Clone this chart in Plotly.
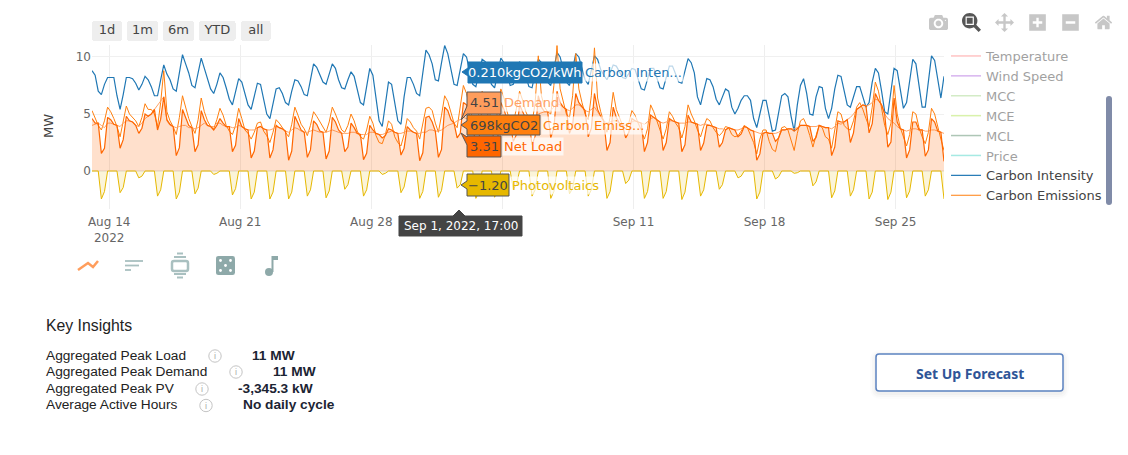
"""
Load overview chart with hover labels, legend and insight panel below it
Values read off the screenshot, one row per day, 4 hours apart
"""

import pandas as pd
import plotly.graph_objects as go

W, H = 1128, 455

CARBON_INTENSITY = [
    8.8, 8.4, 7.0, 6.7, 7.6, 8.2,
    8.2, 8.2, 6.6, 5.4, 6.7, 8.2,
    8.2, 8.1, 7.7, 7.1, 7.6, 8.3,
    8.0, 7.4, 6.6, 6.6, 8.0, 9.3,
    8.5, 8.0, 7.2, 7.0, 8.6, 10.2,
    9.4, 8.6, 7.5, 7.3, 8.6, 9.9,
    9.0, 8.2, 7.2, 6.8, 7.6, 8.6,
    8.2, 7.3, 6.3, 5.8, 7.0, 8.1,
    7.8, 6.9, 5.8, 5.4, 6.6, 7.7,
    7.6, 6.2, 5.0, 4.6, 6.0, 7.2,
    7.3, 6.8, 6.0, 5.8, 7.0, 8.0,
    7.9, 7.4, 6.7, 6.6, 8.0, 9.4,
    9.1, 8.5, 7.8, 7.6, 8.4, 9.4,
    9.0, 8.0, 7.3, 7.2, 8.0, 8.7,
    8.3, 7.0, 6.0, 5.8, 7.5, 9.0,
    8.4, 6.5, 4.4, 3.9, 6.0, 7.8,
    7.6, 6.0, 4.4, 4.1, 6.5, 8.2,
    8.2, 7.6, 6.8, 6.6, 8.6, 10.6,
    10.2, 9.4, 8.0, 7.9, 9.5, 11.0,
    10.3, 9.0, 7.6, 7.5, 8.8, 10.3,
    10.0, 8.8, 7.6, 7.4, 8.6, 9.8,
    9.6, 8.6, 7.6, 7.3, 8.6, 9.9,
    9.5, 8.5, 7.5, 7.6, 8.5, 9.6,
    9.2, 8.3, 7.4, 7.3, 8.6, 9.8,
    9.5, 8.7, 7.8, 7.5, 8.9, 10.4,
    10.0, 9.0, 7.8, 7.5, 9.0, 10.3,
    10.0, 9.0, 8.0, 7.6, 8.8, 10.1,
    9.8, 8.9, 8.4, 8.0, 8.6, 9.3,
    9.2, 8.7, 8.2, 8.1, 8.6, 9.0,
    8.9, 8.0, 7.2, 7.1, 8.0, 9.0,
    9.0, 8.2, 7.3, 7.2, 8.2, 9.2,
    9.2, 8.4, 7.8, 7.7, 8.8, 9.85,
    9.5, 8.6, 6.5, 5.8, 7.0, 8.1,
    8.0, 7.4, 6.3, 5.8, 6.5, 7.2,
    7.0, 5.6, 5.0, 5.5, 6.2, 6.6,
    6.6, 6.2, 4.6, 3.8, 5.0, 6.2,
    6.2, 4.8, 3.5, 3.6, 5.3, 6.6,
    6.8, 6.5, 4.8, 3.5, 5.8, 7.5,
    8.1, 6.8, 5.0, 4.9, 6.5, 7.4,
    7.3, 5.5, 4.6, 5.5, 7.2, 8.4,
    8.3, 7.0, 5.8, 5.6, 6.5, 7.4,
    7.4, 6.5, 5.6, 6.0, 7.8, 9.0,
    8.6, 7.0, 5.2, 5.0, 7.0, 9.0,
    8.8, 7.0, 5.5, 6.0, 8.0, 9.8,
    9.4, 7.5, 5.6, 5.6, 8.0, 10.1,
    9.7, 8.0, 6.4, 8.3,
]

CARBON_EMISSIONS = [
    5.3, 4.6, 4.0, 3.6, 4.4, 5.6,
    5.2, 4.6, 3.9, 3.0, 4.3, 5.7,
    5.0, 4.7, 4.4, 3.9, 4.7, 5.9,
    5.4, 5.4, 5.0, 3.9, 6.0, 8.8,
    5.2, 4.4, 3.9, 3.2, 4.7, 6.6,
    5.6, 4.6, 3.9, 3.3, 4.5, 6.4,
    5.2, 4.4, 3.9, 3.7, 4.5, 5.5,
    4.9, 4.0, 3.5, 3.2, 4.0, 5.5,
    4.6, 3.6, 3.3, 2.8, 3.4, 4.2,
    4.3, 3.5, 3.1, 2.5, 3.4, 4.5,
    4.2, 3.8, 3.5, 3.0, 4.1, 5.6,
    4.9, 4.1, 3.7, 3.1, 4.0, 5.2,
    4.8, 4.3, 3.8, 3.4, 4.3, 5.6,
    5.0, 4.2, 3.6, 3.4, 4.0, 5.0,
    4.4, 3.5, 3.0, 2.8, 3.6, 4.8,
    4.2, 3.1, 2.5, 2.4, 3.2, 4.4,
    4.1, 3.0, 2.5, 2.2, 3.2, 4.6,
    4.3, 3.8, 3.5, 2.8, 4.1, 5.5,
    5.6, 5.3, 4.2, 3.4, 4.9, 6.6,
    6.1, 5.2, 4.2, 3.8, 5.5, 7.5,
    6.8, 5.5, 4.5, 4.0, 5.1, 7.0,
    6.6, 5.4, 4.5, 3.8, 5.3, 7.2,
    6.4, 5.2, 4.3, 4.2, 5.5, 7.0,
    6.2, 5.2, 4.6, 4.2, 6.0, 10.1,
    6.6, 5.6, 5.2, 5.0, 7.5, 11.0,
    7.2, 6.0, 5.0, 4.7, 6.6, 10.3,
    7.2, 6.0, 5.0, 4.5, 6.6, 10.8,
    6.4, 5.2, 4.3, 3.4, 4.7, 6.9,
    5.4, 4.6, 4.0, 3.7, 4.2, 5.3,
    4.9, 4.2, 3.6, 2.8, 3.7, 5.8,
    5.2, 4.4, 3.6, 2.8, 3.7, 5.2,
    4.8, 4.2, 3.8, 2.9, 3.9, 5.8,
    5.0, 4.4, 3.6, 3.0, 3.9, 4.6,
    4.4, 3.8, 3.4, 3.1, 3.4, 3.9,
    3.8, 3.2, 3.0, 3.1, 3.5, 4.0,
    3.8, 3.2, 2.5, 1.5, 2.8, 3.6,
    3.6, 2.6, 1.9, 1.7, 2.9, 3.8,
    3.9, 3.6, 2.8, 1.8, 3.3, 4.4,
    4.6, 4.0, 3.1, 2.1, 3.1, 4.0,
    3.8, 3.0, 2.8, 2.0, 3.6, 5.2,
    5.0, 4.0, 3.7, 3.6, 4.4, 5.6,
    6.0, 5.4, 4.6, 3.9, 5.6, 7.8,
    7.0, 5.4, 4.0, 3.2, 4.2, 7.5,
    5.0, 3.8, 3.0, 2.2, 3.2, 5.2,
    5.0, 3.8, 3.0, 2.4, 3.4, 5.5,
    5.0, 3.8, 2.8, 1.8,
]

DEMAND = [
    4.0, 4.1, 4.2, 4.0, 3.8, 4.2,
    4.2, 4.1, 4.0, 3.9, 4.2, 4.4,
    4.4, 4.3, 4.0, 3.9, 4.2, 4.6,
    4.8, 5.0, 5.4, 5.8, 6.2, 6.5,
    4.4, 4.0, 3.9, 3.8, 3.9, 4.0,
    4.0, 3.8, 3.8, 3.7, 3.8, 4.0,
    4.2, 4.0, 3.9, 3.9, 4.2, 4.2,
    4.0, 3.9, 3.9, 3.8, 3.8, 4.0,
    3.9, 3.7, 3.6, 3.6, 3.6, 3.8,
    3.9, 3.7, 3.6, 3.6, 3.7, 3.9,
    3.8, 3.7, 3.5, 3.4, 3.6, 3.8,
    3.7, 3.5, 3.4, 3.4, 3.5, 3.6,
    3.5, 3.4, 3.4, 3.4, 3.5, 3.6,
    3.5, 3.4, 3.3, 3.3, 3.3, 3.4,
    3.4, 3.3, 3.2, 3.2, 3.2, 3.4,
    3.4, 3.3, 3.2, 3.2, 3.3, 3.4,
    3.5, 3.4, 3.3, 3.3, 3.4, 3.5,
    3.5, 3.4, 3.3, 3.3, 3.4, 3.4,
    3.6, 3.6, 3.5, 3.5, 3.6, 3.8,
    4.0, 4.1, 4.2, 4.4, 4.51, 4.7,
    4.6, 4.5, 4.4, 4.3, 4.5, 4.6,
    4.5, 4.4, 4.4, 4.4, 4.6, 4.7,
    4.5, 4.3, 4.2, 4.2, 4.4, 4.6,
    4.6, 4.5, 4.4, 4.5, 4.7, 5.0,
    5.1, 5.2, 5.2, 5.3, 5.6, 5.9,
    5.8, 5.6, 5.4, 5.3, 5.5, 5.8,
    5.8, 5.6, 5.3, 5.2, 5.4, 5.6,
    5.2, 4.8, 4.4, 4.2, 4.3, 4.4,
    4.4, 4.2, 4.0, 4.0, 4.2, 4.3,
    4.4, 4.3, 4.2, 4.1, 4.3, 4.6,
    4.7, 4.5, 4.3, 4.2, 4.3, 4.4,
    4.4, 4.3, 4.2, 4.2, 4.2, 4.3,
    4.3, 4.2, 4.1, 4.0, 4.1, 4.1,
    4.0, 3.9, 3.8, 3.7, 3.7, 3.6,
    3.8, 3.7, 3.6, 3.6, 3.7, 3.9,
    3.8, 3.6, 3.5, 3.4, 3.3, 3.3,
    3.4, 3.3, 3.3, 3.3, 3.4, 3.6,
    3.6, 3.7, 3.7, 3.7, 3.8, 4.0,
    4.0, 4.0, 3.9, 3.9, 3.9, 4.0,
    3.9, 3.8, 3.8, 3.7, 3.9, 4.2,
    4.1, 4.3, 4.5, 4.7, 5.0, 5.4,
    5.6, 5.8, 5.7, 5.8, 6.0, 6.3,
    6.2, 5.8, 5.0, 4.6, 4.4, 4.2,
    3.9, 3.7, 3.6, 3.5, 3.6, 3.7,
    3.7, 3.6, 3.6, 3.5, 3.5, 3.6,
    3.6, 3.5, 3.4, 3.3,
]

NET_LOAD = [
    4.6, 4.2, 4.2, 1.55, 2.0, 4.7,
    4.5, 4.1, 4.0, 2.0, 2.75, 4.8,
    4.4, 4.3, 4.0, 3.3, 3.75, 5.0,
    4.8, 5.0, 5.4, 3.6, 4.55, 6.5,
    4.5, 4.1, 3.9, 1.35, 2.05, 5.4,
    4.7, 4.0, 3.8, 1.7, 2.3, 5.3,
    4.5, 4.0, 3.9, 3.6, 4.0, 4.6,
    4.2, 3.9, 3.9, 1.7, 2.25, 4.6,
    3.9, 3.7, 3.6, 1.15, 1.75, 3.8,
    3.9, 3.7, 3.6, 1.15, 1.85, 4.0,
    3.8, 3.7, 3.5, 0.95, 1.75, 4.8,
    4.2, 3.6, 3.4, 1.2, 1.85, 4.4,
    4.1, 3.5, 3.4, 1.05, 1.75, 4.7,
    4.3, 3.6, 3.3, 1.7, 2.1, 4.2,
    3.8, 3.3, 3.2, 1.0, 1.55, 4.0,
    3.6, 3.3, 3.2, 2.9, 3.1, 3.7,
    3.6, 3.4, 3.3, 1.4, 2.0, 3.9,
    3.6, 3.4, 3.3, 0.9, 1.6, 4.7,
    4.8, 4.3, 3.5, 1.2, 1.9, 5.6,
    5.3, 4.5, 4.2, 2.9, 3.31, 6.0,
    5.8, 4.8, 4.4, 1.9, 2.7, 5.8,
    5.6, 4.8, 4.4, 2.1, 2.9, 6.0,
    5.4, 4.5, 4.2, 2.6, 3.2, 5.8,
    5.2, 4.6, 4.4, 2.3, 3.05, 6.6,
    5.6, 5.2, 5.2, 2.9, 3.8, 7.0,
    6.0, 5.6, 5.4, 3.3, 4.0, 6.8,
    6.0, 5.6, 5.3, 3.0, 3.75, 6.8,
    5.4, 4.8, 4.4, 1.8, 2.5, 5.6,
    4.7, 4.2, 4.0, 2.9, 3.4, 4.6,
    4.4, 4.3, 4.2, 1.7, 2.5, 4.9,
    4.7, 4.5, 4.3, 1.8, 2.5, 4.6,
    4.4, 4.3, 4.2, 1.7, 2.3, 4.9,
    4.3, 4.2, 4.1, 1.8, 2.45, 4.0,
    4.0, 3.9, 3.8, 2.1, 2.5, 3.6,
    3.8, 3.7, 3.6, 3.0, 3.25, 3.9,
    3.8, 3.6, 3.5, 0.95, 1.5, 3.3,
    3.4, 3.3, 3.3, 2.6, 2.9, 3.6,
    3.6, 3.7, 3.7, 3.5, 3.7, 4.0,
    4.0, 4.0, 3.9, 2.6, 2.95, 4.0,
    3.9, 3.8, 3.8, 1.35, 2.1, 4.4,
    4.3, 4.3, 4.5, 2.5, 3.35, 5.4,
    5.6, 5.8, 5.7, 3.35, 4.15, 6.8,
    6.2, 5.8, 5.0, 2.1, 2.55, 6.4,
    4.3, 3.7, 3.6, 1.15, 1.85, 4.3,
    4.3, 3.6, 3.6, 1.3, 1.85, 4.6,
    4.3, 3.5, 3.4, 0.85,
]

PHOTOVOLTAICS = [
    0, 0, 0, -2.45, -1.8, 0,
    0, 0, 0, -1.9, -1.45, 0,
    0, 0, 0, -0.6, -0.45, 0,
    0, 0, 0, -2.2, -1.65, 0,
    0, 0, 0, -2.45, -1.85, 0,
    0, 0, 0, -2.0, -1.5, 0,
    0, 0, 0, -0.3, -0.2, 0,
    0, 0, 0, -2.1, -1.55, 0,
    0, 0, 0, -2.45, -1.85, 0,
    0, 0, 0, -2.45, -1.85, 0,
    0, 0, 0, -2.45, -1.85, 0,
    0, 0, 0, -2.2, -1.65, 0,
    0, 0, 0, -2.35, -1.75, 0,
    0, 0, 0, -1.6, -1.2, 0,
    0, 0, 0, -2.2, -1.65, 0,
    0, 0, 0, -0.3, -0.2, 0,
    0, 0, 0, -1.9, -1.4, 0,
    0, 0, 0, -2.4, -1.8, 0,
    0, 0, 0, -2.3, -1.7, 0,
    0, 0, 0, -1.5, -1.2, 0,
    0, 0, 0, -2.4, -1.8, 0,
    0, 0, 0, -2.3, -1.7, 0,
    0, 0, 0, -1.6, -1.2, 0,
    0, 0, 0, -2.2, -1.65, 0,
    0, 0, 0, -2.4, -1.8, 0,
    0, 0, 0, -2.0, -1.5, 0,
    0, 0, 0, -2.2, -1.65, 0,
    0, 0, 0, -2.4, -1.8, 0,
    0, 0, 0, -1.1, -0.8, 0,
    0, 0, 0, -2.4, -1.8, 0,
    0, 0, 0, -2.4, -1.8, 0,
    0, 0, 0, -2.5, -1.85, 0,
    0, 0, 0, -2.2, -1.65, 0,
    0, 0, 0, -1.6, -1.2, 0,
    0, 0, 0, -0.6, -0.45, 0,
    0, 0, 0, -2.45, -1.85, 0,
    0, 0, 0, -0.7, -0.5, 0,
    0, 0, 0, -0.2, -0.15, 0,
    0, 0, 0, -1.3, -0.95, 0,
    0, 0, 0, -2.35, -1.75, 0,
    0, 0, 0, -2.2, -1.65, 0,
    0, 0, 0, -2.45, -1.85, 0,
    0, 0, 0, -2.5, -1.85, 0,
    0, 0, 0, -2.35, -1.75, 0,
    0, 0, 0, -2.2, -1.65, 0,
    0, 0, 0, -2.45,
]

# traces that are switched off in the legend, nothing drawn for them
HIDDEN_NAMES = ["Temperature", "Wind Speed", "MCC", "MCE", "MCL", "Price"]
HIDDEN_COLORS = ["#ff8a8a", "#b06be0", "#a9d98e", "#b5e65a", "#5f8f6f", "#4fd6c8"]

INSIGHT_ROWS = ["Aggregated Peak Load", "Aggregated Peak Demand", "Aggregated Peak PV", "Average Active Hours"]
INSIGHT_VALUES = ["11 MW", "11 MW", "-3,345.3 kW", "No daily cycle"]

times = pd.date_range("2022-08-13 02:00", periods=len(NET_LOAD), freq="4h")


# pixel position in the page to paper coordinates
def px(x):
    return x / W


def py(y):
    return 1 - y / H


def path_of(points):
    return "M " + " L ".join(f"{px(x):.5f},{py(y):.5f}" for x, y in points) + " Z"


def round_rect(x0, y0, x1, y1, r):
    return (
        f"M {px(x0 + r):.5f},{py(y0):.5f} L {px(x1 - r):.5f},{py(y0):.5f} "
        f"Q {px(x1):.5f},{py(y0):.5f} {px(x1):.5f},{py(y0 + r):.5f} "
        f"L {px(x1):.5f},{py(y1 - r):.5f} "
        f"Q {px(x1):.5f},{py(y1):.5f} {px(x1 - r):.5f},{py(y1):.5f} "
        f"L {px(x0 + r):.5f},{py(y1):.5f} "
        f"Q {px(x0):.5f},{py(y1):.5f} {px(x0):.5f},{py(y1 - r):.5f} "
        f"L {px(x0):.5f},{py(y0 + r):.5f} "
        f"Q {px(x0):.5f},{py(y0):.5f} {px(x0 + r):.5f},{py(y0):.5f} Z"
    )


fig = go.Figure()

for name, color in zip(HIDDEN_NAMES, HIDDEN_COLORS):
    fig.add_trace(go.Scatter(
        x=[times[0]], y=[None], mode="lines", name=name,
        line=dict(color=color, width=1.5), visible="legendonly",
    ))

fig.add_trace(go.Scatter(
    x=times, y=CARBON_INTENSITY, mode="lines", name="Carbon Intensity",
    line=dict(color="#1f77b4", width=1.2),
))
fig.add_trace(go.Scatter(
    x=times, y=CARBON_EMISSIONS, mode="lines", name="Carbon Emissions",
    line=dict(color="#ff7f0e", width=1),
))
fig.add_trace(go.Scatter(
    x=times, y=DEMAND, mode="lines", name="Demand", showlegend=False,
    line=dict(color="#ffa366", width=1),
))
fig.add_trace(go.Scatter(
    x=times, y=NET_LOAD, mode="lines", name="Net Load", showlegend=False,
    line=dict(color="#ff6600", width=1.2),
    fill="tozeroy", fillcolor="rgba(255,102,0,0.2)",
))
fig.add_trace(go.Scatter(
    x=times, y=PHOTOVOLTAICS, mode="lines", name="Photovoltaics", showlegend=False,
    line=dict(color="#e6b800", width=1),
    fill="tozeroy", fillcolor="rgba(230,184,0,0.15)",
))

shapes = []
notes = []


def text(x, y, s, size=12, color="#444", family="DejaVu Sans", anchor="left", bg=None):
    # left anchored annotations sit about 2px right of the given position
    if anchor == "left":
        x = x - 2
    notes.append(dict(
        x=px(x), y=py(y), xref="paper", yref="paper", text=s, showarrow=False,
        xanchor=anchor, yanchor="middle", align=anchor,
        font=dict(size=size, color=color, family=family),
        bgcolor=bg, borderpad=1,
    ))


# hover label: box with a pointer towards the hovered point
def hover_label(x0, x1, y0, y1, base_y, tip_x, tip_y, fill, value, value_color, name=None, name_color=None):
    border = "#555" if value_color != "white" else fill
    shapes.append(dict(
        type="path", xref="paper", yref="paper", layer="above",
        path=path_of([(tip_x, tip_y), (x0, base_y - 4), (x0, y0), (x1, y0), (x1, y1), (x0, y1), (x0, base_y + 4)]),
        fillcolor=fill, line=dict(color=border, width=1),
    ))
    text((x0 + x1) / 2, (y0 + y1) / 2, value, size=13, color=value_color, anchor="center")
    if name:
        text(x1 + 3, (y0 + y1) / 2, name, size=13, color=name_color, bg="rgba(255,255,255,0.7)")


hover_label(468, 582, 62, 83, 72, 462, 72, "#1f77b4", "0.210kgCO2/kWh", "white", "Carbon Inten...", "#1f77b4")
hover_label(467, 501, 92, 114, 110, 461, 120, "#ff9d5c", "4.51", "#444", "Demand", "#ffa366")
hover_label(467, 540, 115, 135, 125, 461, 125, "#ff7f0e", "698kgCO2", "#444", "Carbon Emiss...", "#ff7f0e")
hover_label(467, 501, 136, 157, 141, 461, 133, "#ff6600", "3.31", "#444", "Net Load", "#ff6600")
hover_label(467, 509, 174, 196, 185, 461, 185, "#e6b800", "\u22121.20", "#444", "Photovoltaics", "#e6b800")

# time label under the axis
shapes.append(dict(
    type="path", xref="paper", yref="paper", layer="above",
    path=path_of([(459, 210), (465, 216), (522, 216), (522, 236), (399, 236), (399, 216), (453, 216)]),
    fillcolor="#444", line=dict(color="#444", width=1),
))
text(460.5, 226, "Sep 1, 2022, 17:00", size=12, color="white", anchor="center")

text(48, 126, "MW", size=13, color="#444", anchor="center")
notes[-1]["textangle"] = -90

# legend scrollbar
shapes.append(dict(
    type="path", xref="paper", yref="paper", layer="above",
    path=round_rect(1106, 96, 1112, 205, 3), fillcolor="#808ba8", line=dict(width=0),
))

# tab icons
ICON_ORANGE = "#ff9d5c"
ICON_GREY = "#a9c0c0"
ICON_DARK = "#8ea9a9"
shapes.append(dict(
    type="path", xref="paper", yref="paper",
    path=f"M {px(78):.5f},{py(270):.5f} L {px(88):.5f},{py(263):.5f} L {px(93):.5f},{py(267):.5f} L {px(98):.5f},{py(261):.5f}",
    line=dict(color=ICON_ORANGE, width=2.5),
))
for x0, y0, x1 in [(125, 261, 143), (125, 265.5, 139), (125, 270, 131)]:
    shapes.append(dict(type="line", xref="paper", yref="paper", x0=px(x0), x1=px(x1), y0=py(y0), y1=py(y0),
                       line=dict(color=ICON_GREY, width=1.8)))
shapes.append(dict(type="path", xref="paper", yref="paper", path=round_rect(172, 261, 188, 271, 2),
                   line=dict(color=ICON_GREY, width=2.5)))
for x0, y0, x1 in [(177, 253.5, 183), (174, 257, 186), (174, 274, 186), (177, 277.5, 183)]:
    shapes.append(dict(type="line", xref="paper", yref="paper", x0=px(x0), x1=px(x1), y0=py(y0), y1=py(y0),
                       line=dict(color=ICON_GREY, width=2)))
shapes.append(dict(type="path", xref="paper", yref="paper", path=round_rect(216, 256, 235, 275, 2.5),
                   fillcolor=ICON_DARK, line=dict(width=0)))
for cx, cy in [(220.5, 260.5), (230.5, 260.5), (225.5, 265.5), (220.5, 270.5), (230.5, 270.5)]:
    shapes.append(dict(type="circle", xref="paper", yref="paper", x0=px(cx - 1.4), x1=px(cx + 1.4),
                       y0=py(cy - 1.4), y1=py(cy + 1.4), fillcolor="white", line=dict(width=0)))
shapes.append(dict(type="circle", xref="paper", yref="paper", x0=px(265), x1=px(273), y0=py(268), y1=py(276),
                   fillcolor=ICON_DARK, line=dict(width=0)))
shapes.append(dict(type="path", xref="paper", yref="paper",
                   path=path_of([(271.5, 256), (278, 256), (278, 260), (273.5, 260), (273.5, 272), (271.5, 272)]),
                   fillcolor=ICON_DARK, line=dict(width=0)))

# insight panel
SANS = "Liberation Sans"
text(46, 325, "Key Insights", size=15.8, color="#222", family=SANS)
row_y = [355, 371, 388, 404.5]
info_x = [215, 236, 202, 206]
value_x = [252, 273, 238, 243]
for label, value, y, ix, vx in zip(INSIGHT_ROWS, INSIGHT_VALUES, row_y, info_x, value_x):
    text(46, y, label, size=13.7, color="#222", family=SANS)
    shapes.append(dict(type="circle", xref="paper", yref="paper", x0=px(ix - 6.2), x1=px(ix + 6.2),
                       y0=py(y + 1 - 6.2), y1=py(y + 1 + 6.2), line=dict(color="#c4c4c4", width=1)))
    text(ix, y + 1, "i", size=9, color="#aaa", family=SANS, anchor="center")
    text(vx, y, f"<b>{value}</b>", size=13.7, color="#1c2433", family=SANS)

# button with a soft shadow
for grow, alpha in [(6, 0.012), (4, 0.018), (2, 0.025)]:
    shapes.append(dict(type="path", xref="paper", yref="paper",
                       path=round_rect(876 - grow, 354 - grow + 2, 1063 + grow, 391 + grow + 2, 4 + grow),
                       fillcolor=f"rgba(0,0,0,{alpha})", line=dict(width=0)))
shapes.append(dict(type="path", xref="paper", yref="paper", path=round_rect(876, 354, 1063, 391, 3),
                   fillcolor="white", line=dict(color="#5b82c0", width=1.5)))
text(970, 373, "<b>Set Up Forecast</b>", size=14, color="#2f5597", family="Noto Sans", anchor="center")

fig.update_layout(
    width=W, height=H, autosize=False,
    margin=dict(l=0, r=0, t=0, b=0, autoexpand=False),
    paper_bgcolor="white", plot_bgcolor="white",
    font=dict(family="DejaVu Sans", size=12, color="#444"),
    hovermode="x",
    shapes=shapes, annotations=notes,
    legend=dict(
        x=px(946), y=py(41), xanchor="left", yanchor="top",
        font=dict(size=13), bgcolor="rgba(0,0,0,0)",
    ),
    xaxis=dict(
        domain=[px(92), px(944)],
        range=[times[0], times[-1]],
        tick0="2022-08-14", dtick=7 * 86400000,
        showgrid=True, gridcolor="#eeeeee", zeroline=False, showline=False,
        ticks="outside", ticklen=2, tickcolor="rgba(0,0,0,0)",
        tickfont=dict(size=12, color="#666"),
        rangeselector=dict(
            x=px(92), y=py(41), xanchor="left", yanchor="bottom",
            bgcolor="#eeeeee", font=dict(size=13, color="#444"),
            buttons=[
                dict(count=1, label="1d", step="day", stepmode="backward"),
                dict(count=1, label="1m", step="month", stepmode="backward"),
                dict(count=6, label="6m", step="month", stepmode="backward"),
                dict(count=1, label="YTD", step="year", stepmode="todate"),
                dict(label="all", step="all"),
            ],
        ),
    ),
    yaxis=dict(
        domain=[py(209), py(45)],
        range=[-3.33, 11.05],
        tickvals=[0, 5, 10],
        showgrid=True, gridcolor="#f0f0f0", zeroline=True, zerolinecolor="#eeeeee",
        tickfont=dict(size=12, color="#666"),
    ),
    modebar=dict(bgcolor="rgba(0,0,0,0)", color="rgba(68,68,68,0.3)", activecolor="rgba(68,68,68,0.9)"),
)

# page margin off and wider modebar buttons, as in the screenshot
page_script = """
document.body.style.margin = '0';
var s = document.createElement('style');
s.textContent = '.modebar-group{padding-left:0 !important;}'
  + '.modebar-btn{font-size:19px !important;padding:3px 7px !important;height:26px !important;}'
  + '.modebar{top:9px !important;right:8px !important;}';
document.head.appendChild(s);
"""

fig.write_html(
    "out.html",
    config={
        "displayModeBar": True,
        "displaylogo": False,
        "modeBarButtonsToRemove": ["select2d", "lasso2d", "autoScale2d"],
    },
    post_script=page_script,
)
